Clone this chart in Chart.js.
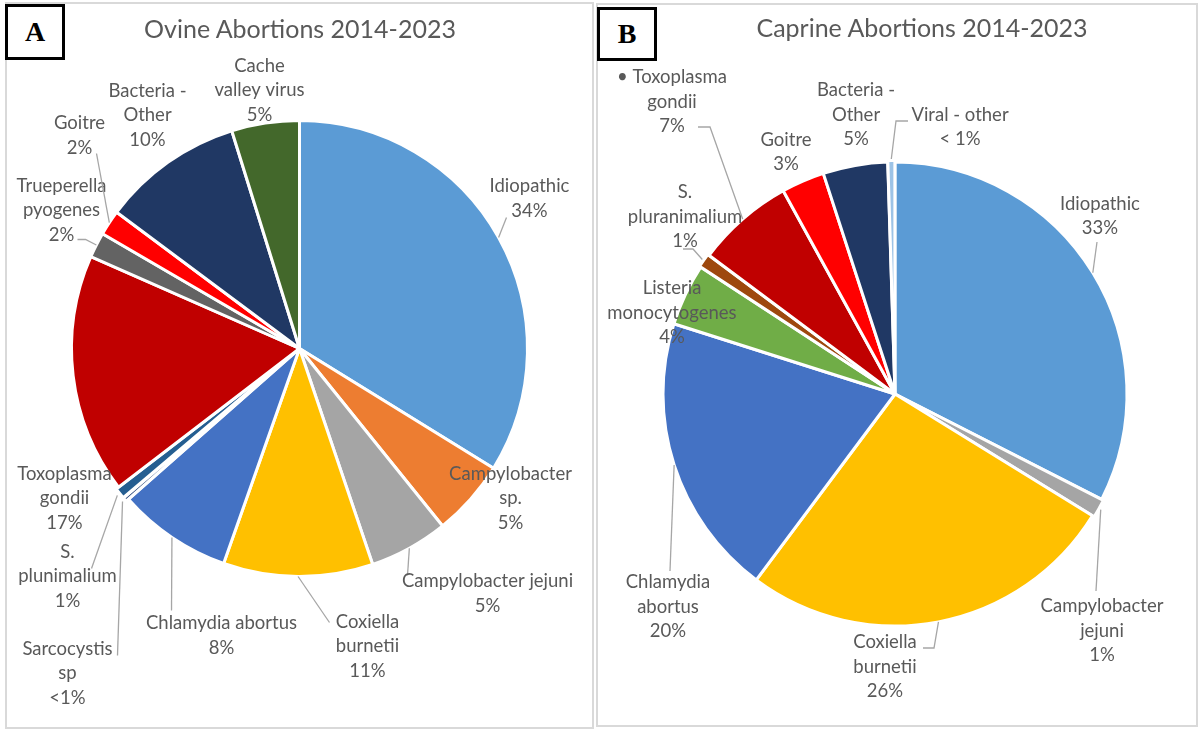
<!DOCTYPE html>
<html lang="en">
<head>
<meta charset="UTF-8">
<title>Ovine and Caprine Abortions 2014-2023</title>
<script src="https://cdn.jsdelivr.net/npm/chart.js"></script>
<style>
  body { margin: 0; background: #fff; font-family: Lato, sans-serif; }
  .panel { position: absolute; border: 2px solid #d9d9d9; box-sizing: border-box; }
  #panelA { left: 5px; top: 2px; width: 589px; height: 727px; }
  #panelB { left: 596px; top: 3px; width: 602px; height: 724px; }
  .box { position: absolute; inset: 0; }
  .tag {
    position: absolute; border: 3px solid #000; background: #fff; box-sizing: border-box;
    font: bold 28px "Liberation Serif", serif; text-align: center; z-index: 2;
  }
  #tagA { left: 5px; top: 4px; width: 60px; height: 56px; line-height: 50px; }
  #tagB { left: 597px; top: 7px; width: 60px; height: 54px; line-height: 48px; }
  .title {
    position: absolute; color: #595959; font-size: 25px; white-space: nowrap;
    transform: translate(-50%, -50%); z-index: 2;
  }
</style>
</head>
<body>
  <div class="panel" id="panelA"><div class="box"><canvas id="ovine"></canvas></div></div>
  <div class="panel" id="panelB"><div class="box"><canvas id="caprine"></canvas></div></div>
  <div class="tag" id="tagA">A</div>
  <div class="tag" id="tagB">B</div>
  <div class="title" style="left:300px; top:28px;">Ovine Abortions 2014-2023</div>
  <div class="title" style="left:922px; top:27px;">Caprine Abortions 2014-2023</div>
<script>
// --- Ovine (A) ---
const ovineLabels = [
  ['Idiopathic'], ['Campylobacter', 'sp.'], ['Campylobacter jejuni'], ['Coxiella', 'burnetii'],
  ['Chlamydia abortus'], ['Sarcocystis', 'sp'], ['S.', 'plunimalium'], ['Toxoplasma', 'gondii'],
  ['Trueperella', 'pyogenes'], ['Goitre'], ['Bacteria -', 'Other'], ['Cache', 'valley virus']
];
const ovinePct = ['34%', '5%', '5%', '11%', '8%', '<1%', '1%', '17%', '2%', '2%', '10%', '5%'];
const ovineValues = [33.8, 5.4, 5.6, 10.6, 8.1, 0.3, 0.8, 17.0, 1.8, 1.8, 10.0, 4.8];
const ovineColors = ['#5b9bd5', '#ed7d31', '#a5a5a5', '#ffc000', '#4472c4', '#264478', '#255e91',
  '#c00000', '#636363', '#ff0000', '#203864', '#43682b'];

// --- Caprine (B) ---
const caprineLabels = [
  ['Idiopathic'], ['Campylobacter', 'jejuni'], ['Coxiella', 'burnetii'], ['Chlamydia', 'abortus'],
  ['Listeria', 'monocytogenes'], ['S.', 'pluranimalium'], ['\u2022 Toxoplasma', 'gondii'],
  ['Goitre'], ['Bacteria -', 'Other'], ['Viral - other']
];
const caprinePct = ['33%', '1%', '26%', '20%', '4%', '1%', '7%', '3%', '5%', '< 1%'];
const caprineValues = [32.5, 1.3, 26.4, 19.7, 4.3, 1.0, 6.8, 3.0, 4.5, 0.5];
const caprineColors = ['#5b9bd5', '#a5a5a5', '#ffc000', '#4472c4', '#70ad47', '#9e480e',
  '#c00000', '#ff0000', '#203864', '#9dc3e6'];

// label placement relative to pie centre: [dx, dy, attachX, attachY, stub] (attach null = no leader)
const ovineLayout = [
  [230, -150, -23, 19, 0], [211, 150, null], [188, 245, -80, -18, 0], [68, 298, -38, -24, 0],
  [-78, 287, -50, -25, 0], [-232, 325, 50, -18, 0], [-232, 228, 24, -8, 0], [-235, 150, null],
  [-238, -138, 16, 29, 8], [-220, -213, 17, 18, 0], [-152, -233, null], [-40, -258, null]
];
const caprineLayout = [
  [205, -178, -3, 26, 0], [207, 237, -6, -40, 0], [-10, 273, 38, -19, 11], [-227, 213, 2, -36, 0],
  [-223, -81, null], [-210, -177, -2, 32, 10], [-223, -292, 26, 25, 12], [-109, -242, null],
  [-39, -279, null], [65, -267, -52, -6, -12]
];

const pieLabels = {
  id: 'pieLabels',
  afterDatasetsDraw(chart, args, opts) {
    const ctx = chart.ctx;
    const meta = chart.getDatasetMeta(0);
    const pct = opts.pct, layout = opts.layout;
    ctx.save();
    meta.data.forEach((arc, i) => {
      const p = arc.getProps(['x', 'y', 'startAngle', 'endAngle', 'outerRadius']);
      const off = arc.options.offset || 0;
      const mid = (p.startAngle + p.endAngle) / 2;
      const L = layout[i];
      const lx = p.x + L[0], ly = p.y + L[1];
      if (L[2] !== null && L[2] !== undefined) {
        const ex = p.x + Math.cos(mid) * (p.outerRadius + off);
        const ey = p.y + Math.sin(mid) * (p.outerRadius + off);
        const ax = lx + L[2], ay = ly + L[3];
        ctx.strokeStyle = '#a6a6a6';
        ctx.lineWidth = 1.3;
        ctx.beginPath();
        ctx.moveTo(ax, ay);
        if (L[4]) ctx.lineTo(ax + L[4], ay);
        ctx.lineTo(ex, ey);
        ctx.stroke();
      }
      const lines = chart.data.labels[i].concat([pct[i]]);
      ctx.fillStyle = '#595959';
      ctx.font = '18.5px Lato, sans-serif';
      ctx.textAlign = 'center';
      ctx.textBaseline = 'middle';
      const lh = 24.5;
      lines.forEach((t, k) => {
        ctx.fillText(t, lx, ly + (k - (lines.length - 1) / 2) * lh);
      });
    });
    ctx.restore();
  }
};

function makePie(id, labels, values, colors, pct, layout, radius, padding, offsets) {
  return new Chart(document.getElementById(id), {
    type: 'pie',
    data: {
      labels: labels,
      datasets: [{
        data: values,
        backgroundColor: colors,
        borderColor: '#ffffff',
        borderWidth: 3,
        offset: offsets
      }]
    },
    options: {
      responsive: true,
      maintainAspectRatio: false,
      animation: false,
      radius: radius,
      layout: { padding: padding },
      plugins: {
        legend: { display: false },
        tooltip: { enabled: false },
        pieLabels: { pct: pct, layout: layout }
      }
    },
    plugins: [pieLabels]
  });
}

makePie('ovine', ovineLabels, ovineValues, ovineColors, ovinePct, ovineLayout, 228,
  { left: 0, right: 0, top: 0, bottom: 34 },
  [0, 0, 0, 0, 0, 6, 6, 0, 0, 0, 0, 0]);
makePie('caprine', caprineLabels, caprineValues, caprineColors, caprinePct, caprineLayout, 232,
  { left: 0, right: 4, top: 58, bottom: 0 },
  [0, 4, 0, 0, 0, 3, 0, 0, 0, 3]);
</script>
</body>
</html>
